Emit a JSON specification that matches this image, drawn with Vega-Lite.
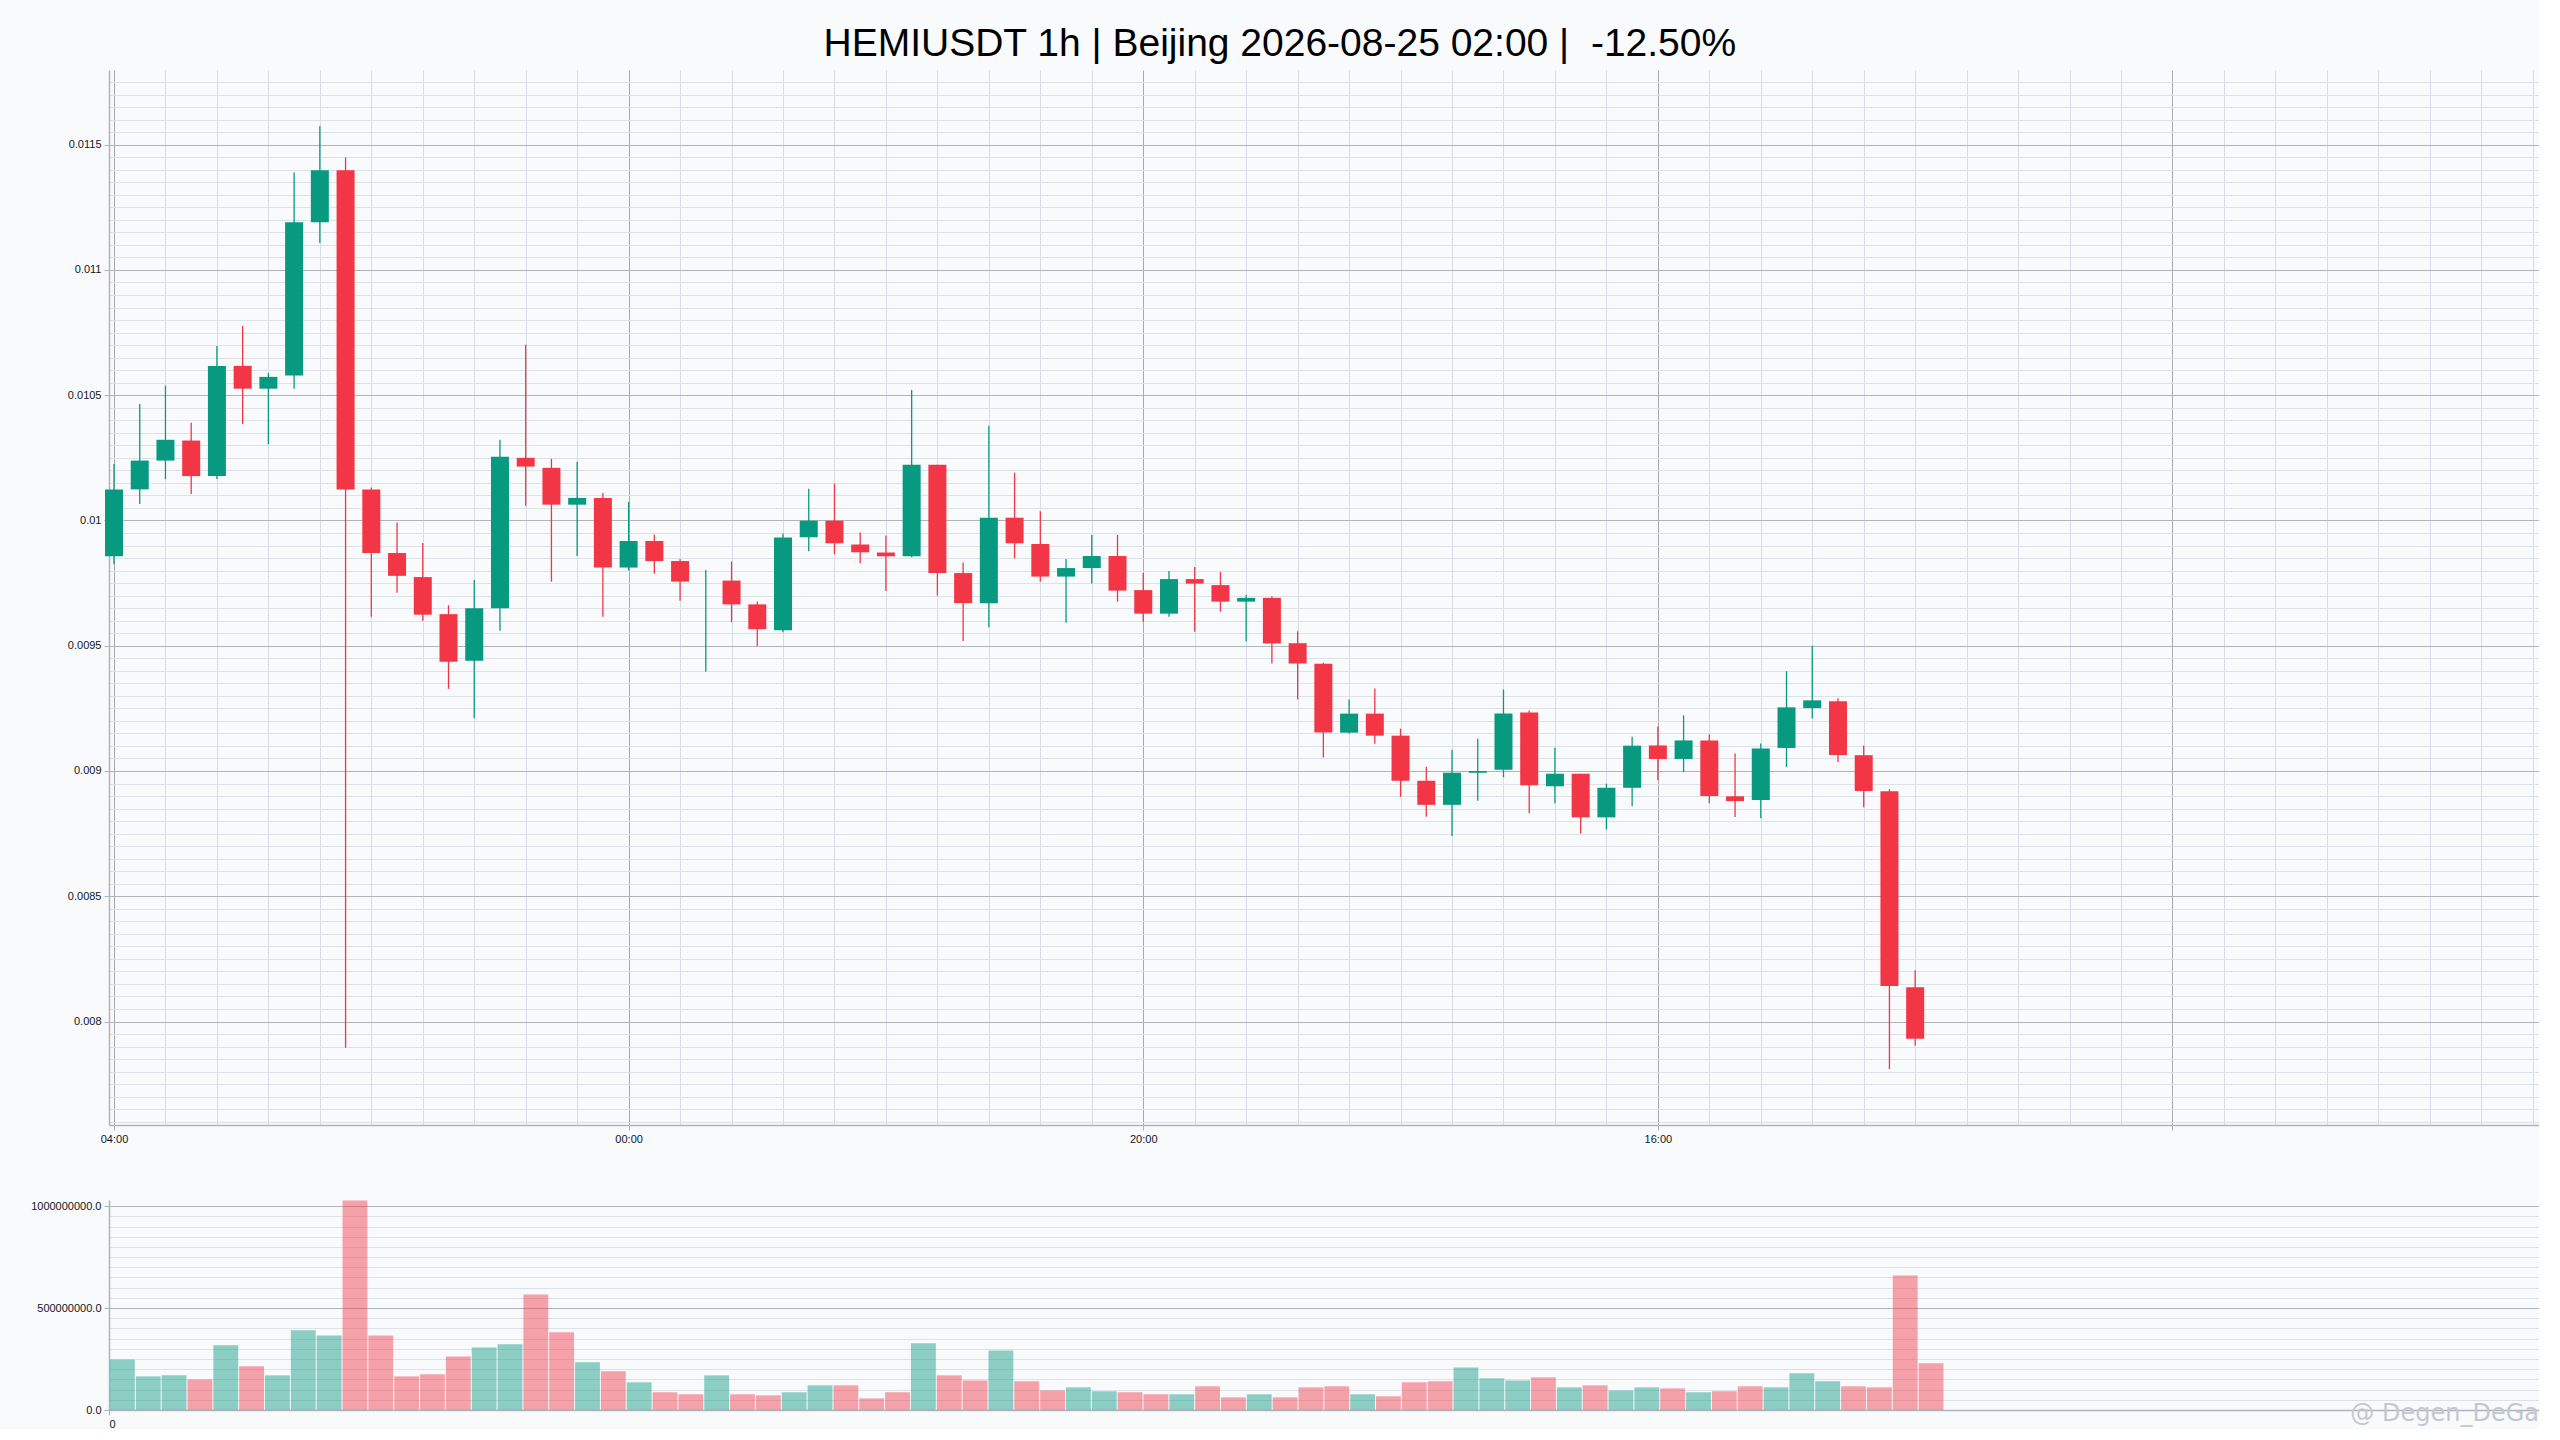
{
  "$schema": "https://vega.github.io/schema/vega-lite/v6.json",
  "background": "#f8fafc",
  "padding": {"left": 30, "top": 25, "right": 0, "bottom": 0},
  "title": {"text": "HEMIUSDT 1h | Beijing 2026-08-25 02:00 | \u00a0-12.50%", "fontSize": 39, "font": "Liberation Sans", "fontWeight": "normal", "color": "#000000", "anchor": "middle", "offset": 6, "dx": -5},
  "spacing": 56,
  "config": {
    "view": {"stroke": null},
    "axis": {"labelFont": "Liberation Sans", "labelFontSize": 11, "labelColor": "#131722", "domainColor": "#aeb4bc", "domainWidth": 1.5, "tickColor": "#aeb4bc", "tickSize": 5, "labelPadding": 3}
  },
  "data": {"values": [
    {"t": "2026-08-22T04:00:00", "open": 0.009857, "high": 0.010225, "low": 0.009825, "close": 0.010124, "volume": 248000000},
    {"t": "2026-08-22T05:00:00", "open": 0.010124, "high": 0.010465, "low": 0.010066, "close": 0.010239, "volume": 165000000},
    {"t": "2026-08-22T06:00:00", "open": 0.010239, "high": 0.010538, "low": 0.010165, "close": 0.010322, "volume": 170000000},
    {"t": "2026-08-22T07:00:00", "open": 0.010319, "high": 0.01039, "low": 0.010106, "close": 0.010177, "volume": 150000000},
    {"t": "2026-08-22T08:00:00", "open": 0.010177, "high": 0.010696, "low": 0.010165, "close": 0.010617, "volume": 317000000},
    {"t": "2026-08-22T09:00:00", "open": 0.010617, "high": 0.010776, "low": 0.010385, "close": 0.010526, "volume": 214000000},
    {"t": "2026-08-22T10:00:00", "open": 0.010526, "high": 0.010589, "low": 0.010304, "close": 0.010573, "volume": 170000000},
    {"t": "2026-08-22T11:00:00", "open": 0.010579, "high": 0.011389, "low": 0.010526, "close": 0.01119, "volume": 391000000},
    {"t": "2026-08-22T12:00:00", "open": 0.01119, "high": 0.011573, "low": 0.011107, "close": 0.011398, "volume": 366000000},
    {"t": "2026-08-22T13:00:00", "open": 0.011398, "high": 0.011449, "low": 0.007895, "close": 0.010124, "volume": 1028000000},
    {"t": "2026-08-22T14:00:00", "open": 0.010124, "high": 0.010132, "low": 0.009616, "close": 0.00987, "volume": 366000000},
    {"t": "2026-08-22T15:00:00", "open": 0.00987, "high": 0.009992, "low": 0.009711, "close": 0.009779, "volume": 165000000},
    {"t": "2026-08-22T16:00:00", "open": 0.009774, "high": 0.00991, "low": 0.0096, "close": 0.009624, "volume": 175000000},
    {"t": "2026-08-22T17:00:00", "open": 0.009626, "high": 0.009662, "low": 0.009328, "close": 0.009436, "volume": 263000000},
    {"t": "2026-08-22T18:00:00", "open": 0.00944, "high": 0.009762, "low": 0.009212, "close": 0.00965, "volume": 307000000},
    {"t": "2026-08-22T19:00:00", "open": 0.00965, "high": 0.010322, "low": 0.00956, "close": 0.010254, "volume": 322000000},
    {"t": "2026-08-22T20:00:00", "open": 0.01025, "high": 0.010701, "low": 0.010059, "close": 0.010215, "volume": 567000000},
    {"t": "2026-08-22T21:00:00", "open": 0.01021, "high": 0.010246, "low": 0.009756, "close": 0.010063, "volume": 381000000},
    {"t": "2026-08-22T22:00:00", "open": 0.010063, "high": 0.010234, "low": 0.009858, "close": 0.01009, "volume": 234000000},
    {"t": "2026-08-22T23:00:00", "open": 0.01009, "high": 0.01011, "low": 0.009616, "close": 0.009812, "volume": 190000000},
    {"t": "2026-08-23T00:00:00", "open": 0.009812, "high": 0.010074, "low": 0.0098, "close": 0.009918, "volume": 136000000},
    {"t": "2026-08-23T01:00:00", "open": 0.009918, "high": 0.009943, "low": 0.009788, "close": 0.009838, "volume": 87000000},
    {"t": "2026-08-23T02:00:00", "open": 0.009838, "high": 0.009846, "low": 0.00968, "close": 0.009756, "volume": 77000000},
    {"t": "2026-08-23T03:00:00", "open": 0.00976, "high": 0.009802, "low": 0.009396, "close": 0.00976, "volume": 170000000},
    {"t": "2026-08-23T04:00:00", "open": 0.00976, "high": 0.009836, "low": 0.009594, "close": 0.009665, "volume": 77000000},
    {"t": "2026-08-23T05:00:00", "open": 0.009665, "high": 0.009677, "low": 0.009499, "close": 0.009566, "volume": 72000000},
    {"t": "2026-08-23T06:00:00", "open": 0.009562, "high": 0.009948, "low": 0.009554, "close": 0.009932, "volume": 87000000},
    {"t": "2026-08-23T07:00:00", "open": 0.009933, "high": 0.010127, "low": 0.009877, "close": 0.009999, "volume": 121000000},
    {"t": "2026-08-23T08:00:00", "open": 0.009999, "high": 0.010147, "low": 0.009865, "close": 0.009909, "volume": 121000000},
    {"t": "2026-08-23T09:00:00", "open": 0.009904, "high": 0.009952, "low": 0.009829, "close": 0.009873, "volume": 57000000},
    {"t": "2026-08-23T10:00:00", "open": 0.009872, "high": 0.00994, "low": 0.009718, "close": 0.009857, "volume": 87000000},
    {"t": "2026-08-23T11:00:00", "open": 0.009857, "high": 0.010521, "low": 0.009853, "close": 0.010222, "volume": 327000000},
    {"t": "2026-08-23T12:00:00", "open": 0.010222, "high": 0.010222, "low": 0.0097, "close": 0.00979, "volume": 170000000},
    {"t": "2026-08-23T13:00:00", "open": 0.00979, "high": 0.009832, "low": 0.009519, "close": 0.00967, "volume": 145000000},
    {"t": "2026-08-23T14:00:00", "open": 0.00967, "high": 0.010378, "low": 0.009574, "close": 0.010011, "volume": 292000000},
    {"t": "2026-08-23T15:00:00", "open": 0.010011, "high": 0.010191, "low": 0.009849, "close": 0.009909, "volume": 141000000},
    {"t": "2026-08-23T16:00:00", "open": 0.009906, "high": 0.010037, "low": 0.009756, "close": 0.009776, "volume": 96000000},
    {"t": "2026-08-23T17:00:00", "open": 0.009776, "high": 0.009846, "low": 0.009592, "close": 0.00981, "volume": 111000000},
    {"t": "2026-08-23T18:00:00", "open": 0.00981, "high": 0.009942, "low": 0.009748, "close": 0.009858, "volume": 92000000},
    {"t": "2026-08-23T19:00:00", "open": 0.009858, "high": 0.009942, "low": 0.009676, "close": 0.00972, "volume": 87000000},
    {"t": "2026-08-23T20:00:00", "open": 0.009722, "high": 0.00979, "low": 0.009596, "close": 0.009628, "volume": 77000000},
    {"t": "2026-08-23T21:00:00", "open": 0.009628, "high": 0.009798, "low": 0.009616, "close": 0.009766, "volume": 77000000},
    {"t": "2026-08-23T22:00:00", "open": 0.009766, "high": 0.009814, "low": 0.009556, "close": 0.009748, "volume": 116000000},
    {"t": "2026-08-23T23:00:00", "open": 0.009742, "high": 0.009794, "low": 0.009636, "close": 0.009676, "volume": 62000000},
    {"t": "2026-08-24T00:00:00", "open": 0.009676, "high": 0.009703, "low": 0.009517, "close": 0.009691, "volume": 77000000},
    {"t": "2026-08-24T01:00:00", "open": 0.009691, "high": 0.009697, "low": 0.009429, "close": 0.009509, "volume": 62000000},
    {"t": "2026-08-24T02:00:00", "open": 0.00951, "high": 0.009558, "low": 0.009286, "close": 0.009429, "volume": 111000000},
    {"t": "2026-08-24T03:00:00", "open": 0.009428, "high": 0.009432, "low": 0.009054, "close": 0.009154, "volume": 116000000},
    {"t": "2026-08-24T04:00:00", "open": 0.009153, "high": 0.009285, "low": 0.009149, "close": 0.009229, "volume": 77000000},
    {"t": "2026-08-24T05:00:00", "open": 0.009229, "high": 0.009329, "low": 0.009109, "close": 0.009141, "volume": 67000000},
    {"t": "2026-08-24T06:00:00", "open": 0.009141, "high": 0.009169, "low": 0.008897, "close": 0.008961, "volume": 136000000},
    {"t": "2026-08-24T07:00:00", "open": 0.008961, "high": 0.009017, "low": 0.008817, "close": 0.008865, "volume": 141000000},
    {"t": "2026-08-24T08:00:00", "open": 0.008865, "high": 0.009085, "low": 0.008741, "close": 0.008993, "volume": 209000000},
    {"t": "2026-08-24T09:00:00", "open": 0.008993, "high": 0.009129, "low": 0.008881, "close": 0.009, "volume": 155000000},
    {"t": "2026-08-24T10:00:00", "open": 0.009005, "high": 0.009325, "low": 0.008975, "close": 0.009229, "volume": 145000000},
    {"t": "2026-08-24T11:00:00", "open": 0.009233, "high": 0.009241, "low": 0.008831, "close": 0.008943, "volume": 160000000},
    {"t": "2026-08-24T12:00:00", "open": 0.008939, "high": 0.009093, "low": 0.008871, "close": 0.008989, "volume": 111000000},
    {"t": "2026-08-24T13:00:00", "open": 0.008989, "high": 0.008989, "low": 0.008751, "close": 0.008815, "volume": 121000000},
    {"t": "2026-08-24T14:00:00", "open": 0.008815, "high": 0.008949, "low": 0.008767, "close": 0.008933, "volume": 96000000},
    {"t": "2026-08-24T15:00:00", "open": 0.008933, "high": 0.009137, "low": 0.008859, "close": 0.009101, "volume": 111000000},
    {"t": "2026-08-24T16:00:00", "open": 0.009102, "high": 0.009178, "low": 0.008963, "close": 0.009048, "volume": 106000000},
    {"t": "2026-08-24T17:00:00", "open": 0.009048, "high": 0.009222, "low": 0.008996, "close": 0.009122, "volume": 87000000},
    {"t": "2026-08-24T18:00:00", "open": 0.009122, "high": 0.009146, "low": 0.008871, "close": 0.0089, "volume": 92000000},
    {"t": "2026-08-24T19:00:00", "open": 0.008899, "high": 0.00907, "low": 0.008816, "close": 0.00888, "volume": 116000000},
    {"t": "2026-08-24T20:00:00", "open": 0.008884, "high": 0.00911, "low": 0.008811, "close": 0.00909, "volume": 111000000},
    {"t": "2026-08-24T21:00:00", "open": 0.009092, "high": 0.009398, "low": 0.009016, "close": 0.009254, "volume": 180000000},
    {"t": "2026-08-24T22:00:00", "open": 0.009251, "high": 0.0095, "low": 0.00921, "close": 0.009282, "volume": 141000000},
    {"t": "2026-08-24T23:00:00", "open": 0.009278, "high": 0.00929, "low": 0.009036, "close": 0.009064, "volume": 116000000},
    {"t": "2026-08-25T00:00:00", "open": 0.009063, "high": 0.009102, "low": 0.008855, "close": 0.00892, "volume": 111000000},
    {"t": "2026-08-25T01:00:00", "open": 0.008919, "high": 0.008927, "low": 0.007811, "close": 0.008142, "volume": 660000000},
    {"t": "2026-08-25T02:00:00", "open": 0.008137, "high": 0.008205, "low": 0.007903, "close": 0.007931, "volume": 229000000}
  ]},
  "vconcat": [
    {
      "width": 2430,
      "height": 1055,
      "encoding": {
        "x": {
          "field": "t", "type": "temporal", "title": null,
          "scale": {"domain": [{"year": 2026, "month": 8, "date": 22, "hours": 4}, {"year": 2026, "month": 8, "date": 26, "hours": 2, "minutes": 3}]},
          "axis": {
            "values": [
              {"year": 2026, "month": 8, "date": 22, "hours": 4}, {"year": 2026, "month": 8, "date": 22, "hours": 6}, {"year": 2026, "month": 8, "date": 22, "hours": 8}, {"year": 2026, "month": 8, "date": 22, "hours": 10}, {"year": 2026, "month": 8, "date": 22, "hours": 12}, {"year": 2026, "month": 8, "date": 22, "hours": 14}, {"year": 2026, "month": 8, "date": 22, "hours": 16}, {"year": 2026, "month": 8, "date": 22, "hours": 18}, {"year": 2026, "month": 8, "date": 22, "hours": 20}, {"year": 2026, "month": 8, "date": 22, "hours": 22},
              {"year": 2026, "month": 8, "date": 23, "hours": 0}, {"year": 2026, "month": 8, "date": 23, "hours": 2}, {"year": 2026, "month": 8, "date": 23, "hours": 4}, {"year": 2026, "month": 8, "date": 23, "hours": 6}, {"year": 2026, "month": 8, "date": 23, "hours": 8}, {"year": 2026, "month": 8, "date": 23, "hours": 10}, {"year": 2026, "month": 8, "date": 23, "hours": 12}, {"year": 2026, "month": 8, "date": 23, "hours": 14}, {"year": 2026, "month": 8, "date": 23, "hours": 16}, {"year": 2026, "month": 8, "date": 23, "hours": 18}, {"year": 2026, "month": 8, "date": 23, "hours": 20}, {"year": 2026, "month": 8, "date": 23, "hours": 22},
              {"year": 2026, "month": 8, "date": 24, "hours": 0}, {"year": 2026, "month": 8, "date": 24, "hours": 2}, {"year": 2026, "month": 8, "date": 24, "hours": 4}, {"year": 2026, "month": 8, "date": 24, "hours": 6}, {"year": 2026, "month": 8, "date": 24, "hours": 8}, {"year": 2026, "month": 8, "date": 24, "hours": 10}, {"year": 2026, "month": 8, "date": 24, "hours": 12}, {"year": 2026, "month": 8, "date": 24, "hours": 14}, {"year": 2026, "month": 8, "date": 24, "hours": 16}, {"year": 2026, "month": 8, "date": 24, "hours": 18}, {"year": 2026, "month": 8, "date": 24, "hours": 20}, {"year": 2026, "month": 8, "date": 24, "hours": 22},
              {"year": 2026, "month": 8, "date": 25, "hours": 0}, {"year": 2026, "month": 8, "date": 25, "hours": 2}, {"year": 2026, "month": 8, "date": 25, "hours": 4}, {"year": 2026, "month": 8, "date": 25, "hours": 6}, {"year": 2026, "month": 8, "date": 25, "hours": 8}, {"year": 2026, "month": 8, "date": 25, "hours": 10}, {"year": 2026, "month": 8, "date": 25, "hours": 12}, {"year": 2026, "month": 8, "date": 25, "hours": 14}, {"year": 2026, "month": 8, "date": 25, "hours": 16}, {"year": 2026, "month": 8, "date": 25, "hours": 18}, {"year": 2026, "month": 8, "date": 25, "hours": 20}, {"year": 2026, "month": 8, "date": 25, "hours": 22},
              {"year": 2026, "month": 8, "date": 26, "hours": 0}, {"year": 2026, "month": 8, "date": 26, "hours": 2}
            ],
            "labelOverlap": false,
            "labelExpr": "((datum.value - datetime(2026,7,22,4,0,0,0)) % 72000000 == 0) && (datum.value < datetime(2026,7,25,0,0,0,0)) ? timeFormat(datum.value, '%H:%M') : ''",
            "gridColor": {"condition": {"test": "(datum.value - datetime(2026,7,22,4,0,0,0)) % 72000000 == 0", "value": "#a7abb1"}, "value": "#d6dde7"},
            "tickOpacity": {"condition": {"test": "(datum.value - datetime(2026,7,22,4,0,0,0)) % 72000000 == 0", "value": 1}, "value": 0}
          }
        },
        "color": {"condition": {"test": "datum.close >= datum.open", "value": "#089981"}, "value": "#f23645"}
      },
      "layer": [
        {
          "mark": {"type": "rule", "strokeWidth": 1.3},
          "encoding": {
            "y": {
              "field": "low", "type": "quantitative", "title": null,
              "scale": {"domain": [0.007587, 0.011798], "nice": false, "zero": false},
              "axis": {
                "tickCount": 80,
                "labelOverlap": false,
                "labelExpr": "abs(datum.value * 2000 - round(datum.value * 2000)) < 0.001 ? format(datum.value, '.4~g') : ''",
                "gridColor": {"condition": {"test": "abs(datum.value * 2000 - round(datum.value * 2000)) < 0.001", "value": "#b1b4b9"}, "value": "#dde2e8"},
                "tickOpacity": {"condition": {"test": "abs(datum.value * 2000 - round(datum.value * 2000)) < 0.001", "value": 1}, "value": 0}
              }
            },
            "y2": {"field": "high"}
          }
        },
        {
          "mark": {"type": "bar", "width": 18},
          "encoding": {
            "y": {"field": "open", "type": "quantitative", "title": null},
            "y2": {"field": "close"}
          }
        }
      ]
    },
    {
      "width": 2430,
      "height": 210,
      "layer": [
        {
          "mark": {"type": "bar", "opacity": 0.45},
          "encoding": {
            "x": {
              "field": "t", "type": "temporal", "timeUnit": "yearmonthdatehours", "title": null,
              "scale": {"domain": [{"year": 2026, "month": 8, "date": 22, "hours": 4}, {"year": 2026, "month": 8, "date": 26, "hours": 2, "minutes": 3}]},
              "axis": {"values": [{"year": 2026, "month": 8, "date": 22, "hours": 4}], "labelExpr": "'0'", "grid": false}
            },
            "y": {
              "field": "volume", "type": "quantitative", "title": null,
              "scale": {"domain": [0, 1030000000], "nice": false},
              "axis": {
                "tickCount": 20,
                "labelOverlap": false,
                "labelExpr": "abs(datum.value / 500000000 - round(datum.value / 500000000)) < 0.001 ? format(datum.value, '.1f') : ''",
                "gridColor": {"condition": {"test": "abs(datum.value / 500000000 - round(datum.value / 500000000)) < 0.001", "value": "#b1b4b9"}, "value": "#dde2e8"},
                "tickOpacity": {"condition": {"test": "abs(datum.value / 500000000 - round(datum.value / 500000000)) < 0.001", "value": 1}, "value": 0}
              }
            },
            "color": {"condition": {"test": "datum.close >= datum.open", "value": "#089981"}, "value": "#f23645"}
          }
        },
        {
          "data": {"values": [{"wt": "2026-08-26T02:03:00", "label": "@ Degen_DeGa"}]},
          "mark": {"type": "text", "font": "DejaVu Sans", "fontSize": 24, "color": "#c3c8ce", "align": "right", "baseline": "middle", "dy": 4},
          "encoding": {
            "x": {"field": "wt", "type": "temporal"},
            "y": {"datum": 0},
            "text": {"field": "label"}
          }
        }
      ]
    }
  ]
}
